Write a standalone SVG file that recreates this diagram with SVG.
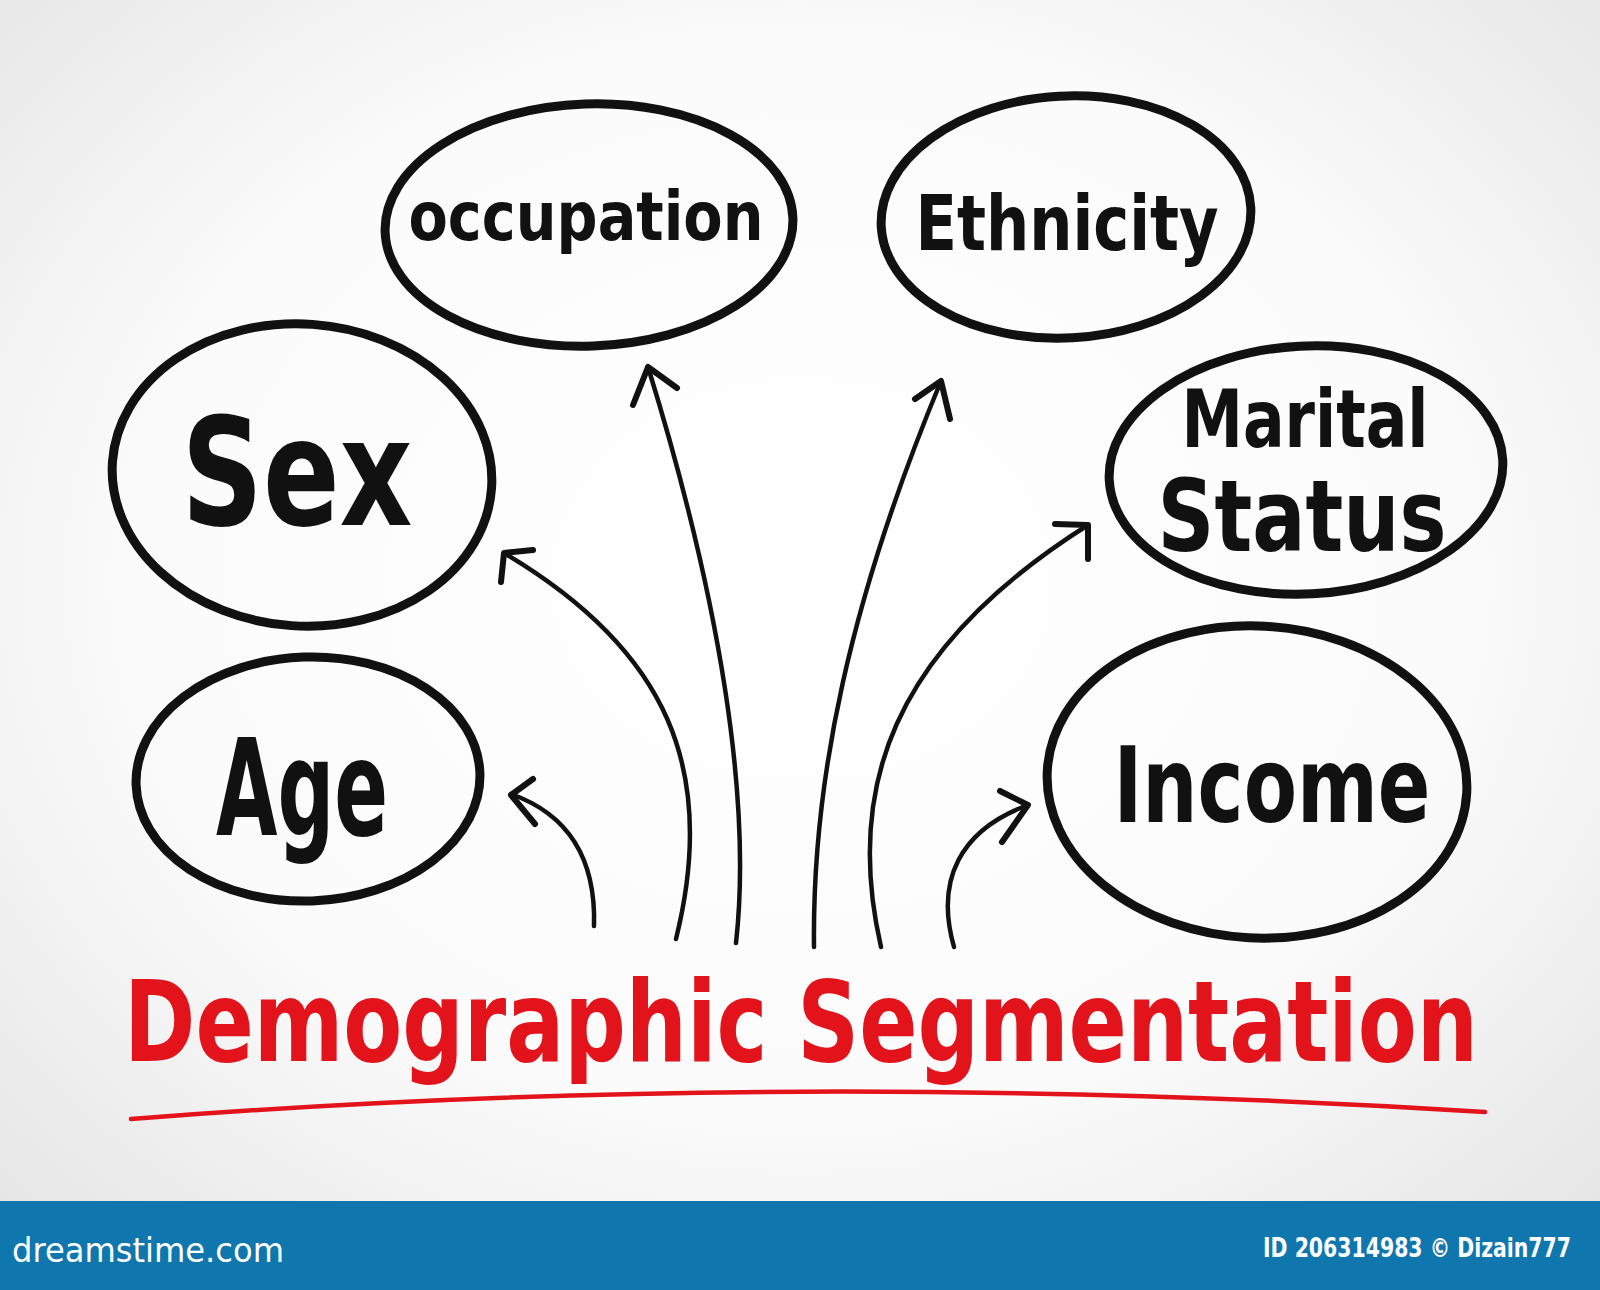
<svg xmlns="http://www.w3.org/2000/svg" width="1600" height="1290" viewBox="0 0 1600 1290">
  <defs>
    <radialGradient id="bg" cx="50%" cy="45%" r="75%">
      <stop offset="0" stop-color="#ffffff"/>
      <stop offset="0.55" stop-color="#fbfbfb"/>
      <stop offset="1" stop-color="#e2e2e2"/>
    </radialGradient>
    <style>
      .node { fill: none; stroke: #111; stroke-width: 9; }
      .lbl { font-family: "DejaVu Sans Condensed", "DejaVu Sans", sans-serif; font-weight: bold; fill: #111; text-anchor: middle; }
      .shaft { fill: none; stroke: #111; stroke-width: 4.5; stroke-linecap: round; }
      .head { fill: none; stroke: #111; stroke-width: 6; stroke-linecap: round; stroke-linejoin: round; }
      .title { font-family: "DejaVu Sans Condensed", "DejaVu Sans", sans-serif; font-weight: bold; fill: #e3131b; }
      .foot { font-family: "DejaVu Sans", sans-serif; fill: #ffffff; }
    </style>
  </defs>

  <rect x="0" y="0" width="1600" height="1290" fill="url(#bg)"/>

  <g id="node-occupation">
    <ellipse class="node" cx="589" cy="225" rx="204" ry="121" transform="rotate(-2 589 225)"/>
    <text class="lbl" x="586" y="240" font-size="68" textLength="355" lengthAdjust="spacingAndGlyphs">occupation</text>
  </g>
  <g id="node-ethnicity">
    <ellipse class="node" cx="1066" cy="217" rx="185" ry="121" transform="rotate(-3 1066 217)"/>
    <text class="lbl" x="1067" y="250" font-size="76" textLength="303" lengthAdjust="spacingAndGlyphs">Ethnicity</text>
  </g>
  <g id="node-sex">
    <ellipse class="node" cx="302" cy="475" rx="190" ry="151" transform="rotate(4 302 475)"/>
    <text class="lbl" x="297" y="525" font-size="150" textLength="231" lengthAdjust="spacingAndGlyphs">Sex</text>
  </g>
  <g id="node-marital-status">
    <ellipse class="node" cx="1306" cy="470" rx="197" ry="124" transform="rotate(-3 1306 470)"/>
    <text class="lbl" x="1305" y="447" font-size="80" textLength="247" lengthAdjust="spacingAndGlyphs">Marital</text>
    <text class="lbl" x="1302" y="551" font-size="100" textLength="289" lengthAdjust="spacingAndGlyphs">Status</text>
  </g>
  <g id="node-age">
    <ellipse class="node" cx="308" cy="779" rx="172" ry="122" transform="rotate(-2 308 779)"/>
    <text class="lbl" x="302" y="835" font-size="134" textLength="172" lengthAdjust="spacingAndGlyphs">Age</text>
  </g>
  <g id="node-income">
    <ellipse class="node" cx="1257" cy="782" rx="210" ry="156" transform="rotate(3 1257 782)"/>
    <text class="lbl" x="1272" y="822" font-size="106" textLength="317" lengthAdjust="spacingAndGlyphs">Income</text>
  </g>

  <g id="connectors">
    <path class="shaft" d="M594,926 C596,860 570,815 511,794"/>
    <path class="head" d="M533,779 L511,795 L535,824"/>

    <path class="shaft" d="M676,939 C718,770 668,650 504,553"/>
    <path class="head" d="M533,550 L504,553 L501,582"/>

    <path class="shaft" d="M736,943 C752,800 720,600 648,367"/>
    <path class="head" d="M677,388 L648,367 L633,405"/>

    <path class="shaft" d="M814,947 C812,780 850,600 941,381"/>
    <path class="head" d="M915,399 L941,381 L950,419"/>

    <path class="shaft" d="M881,947 C845,790 890,650 1088,525"/>
    <path class="head" d="M1055,524 L1088,525 L1088,559"/>

    <path class="shaft" d="M954,947 C935,880 960,830 1028,805"/>
    <path class="head" d="M1000,791 L1028,805 L1002,842"/>
  </g>

  <g id="title">
    <text class="title" x="124" y="1061" font-size="112" textLength="1354" lengthAdjust="spacingAndGlyphs">Demographic Segmentation</text>
    <path d="M131,1119 Q776,1068 1485,1112" fill="none" stroke="#e3131b" stroke-width="4.5" stroke-linecap="round"/>
  </g>

  <g id="footer">
    <rect x="0" y="1201" width="1600" height="89" fill="#0f77ae"/>
    <text class="foot" x="12" y="1262" font-size="34" textLength="272" lengthAdjust="spacingAndGlyphs">dreamstime.com</text>
    <text class="foot" x="1263" y="1257" font-size="27" font-weight="bold" font-family="DejaVu Sans Condensed, DejaVu Sans, sans-serif" textLength="308" lengthAdjust="spacingAndGlyphs">ID 206314983 © Dizain777</text>
  </g>
</svg>
